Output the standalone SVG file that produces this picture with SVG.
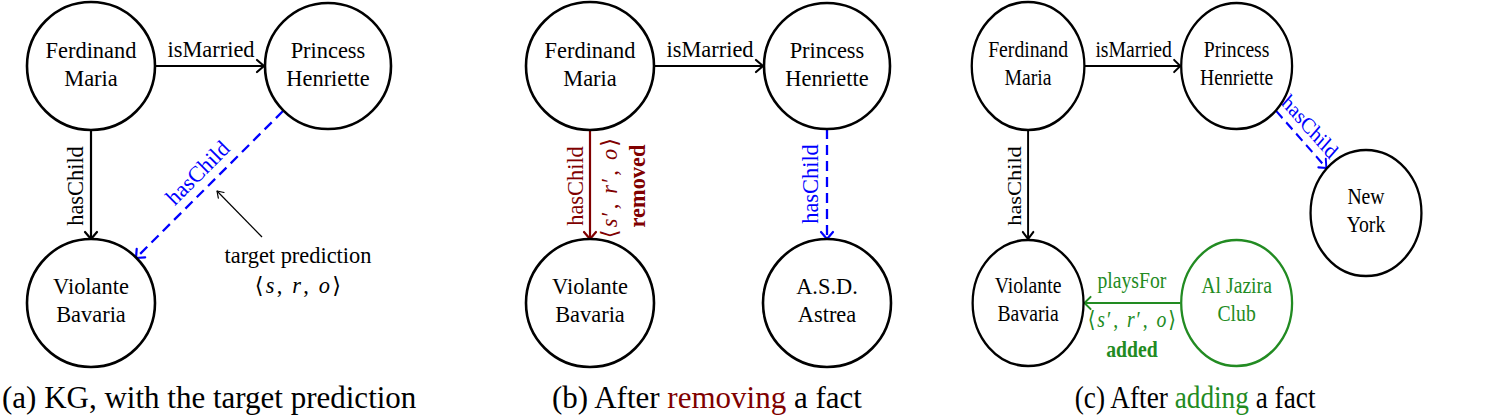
<svg xmlns="http://www.w3.org/2000/svg" width="1494" height="418" viewBox="0 0 1494 418">
<style>
text{font-family:"Liberation Serif","DejaVu Serif",serif;}
.lbl{font-size:22.4px;text-anchor:middle;}
.math{letter-spacing:2.2px;}
.cap{font-size:31px;}
.node{fill:#fff;stroke:#000;stroke-width:2.6;}
.gnode{fill:#fff;stroke:#228B22;stroke-width:2.6;}
.edge{fill:none;stroke:#000;stroke-width:2.2;}
.blue{fill:none;stroke:#0000ff;stroke-width:2.3;stroke-dasharray:10 6;}
.red{fill:none;stroke:#800000;stroke-width:2.2;}
.green{fill:none;stroke:#228B22;stroke-width:2.2;}
.thin{fill:none;stroke:#000;stroke-width:1.2;}
.it{font-style:italic;}
</style>
<defs>
<marker id="ak" markerUnits="userSpaceOnUse" viewBox="-10 -8 12 16" markerWidth="12" markerHeight="16" refX="0" refY="0" orient="auto"><path d="M-7,-6 L0,0 L-7,6" fill="none" stroke="#000" stroke-width="2.2" stroke-linecap="round" stroke-linejoin="round"/></marker>
<marker id="ab" markerUnits="userSpaceOnUse" viewBox="-10 -8 12 16" markerWidth="12" markerHeight="16" refX="0" refY="0" orient="auto"><path d="M-7,-6 L0,0 L-7,6" fill="none" stroke="#0000ff" stroke-width="2.2" stroke-linecap="round" stroke-linejoin="round"/></marker>
<marker id="ar" markerUnits="userSpaceOnUse" viewBox="-10 -8 12 16" markerWidth="12" markerHeight="16" refX="0" refY="0" orient="auto"><path d="M-7,-6 L0,0 L-7,6" fill="none" stroke="#800000" stroke-width="2.2" stroke-linecap="round" stroke-linejoin="round"/></marker>
<marker id="ag" markerUnits="userSpaceOnUse" viewBox="-10 -8 12 16" markerWidth="12" markerHeight="16" refX="0" refY="0" orient="auto"><path d="M-7,-6 L0,0 L-7,6" fill="none" stroke="#228B22" stroke-width="2.2" stroke-linecap="round" stroke-linejoin="round"/></marker>
<marker id="at" markerUnits="userSpaceOnUse" viewBox="-8 -6 10 12" markerWidth="10" markerHeight="12" refX="0" refY="0" orient="auto"><path d="M-6,-4 L0,0 L-6,4" fill="none" stroke="#000" stroke-width="1.2" stroke-linecap="round" stroke-linejoin="round"/></marker>
</defs>

<!-- Panel (a) -->
<g id="panel-a">
  <g id="a-connectors">
    <path class="edge" d="M155,66 L264,66" marker-end="url(#ak)"/>
    <path class="edge" d="M91,130 L91,239" marker-end="url(#ak)"/>
    <path class="blue" d="M283,111 L136,258" marker-end="url(#ab)"/>
    <path class="thin" d="M262,237 L217,191" marker-end="url(#at)"/>
    <text class="lbl" x="211" y="57">isMarried</text>
    <text class="lbl" transform="translate(83,186) rotate(-90)">hasChild</text>
    <text class="lbl" fill="#0000ff" transform="translate(203,178) rotate(-45)">hasChild</text>
  </g>
  <g id="a-ferdinand"><circle class="node" cx="91" cy="66" r="64"/><text class="lbl"><tspan x="91" y="57.5">Ferdinand</tspan><tspan x="91" y="85.5">Maria</tspan></text></g>
  <g id="a-henriette"><circle class="node" cx="328" cy="66" r="63"/><text class="lbl"><tspan x="328" y="57.5">Princess</tspan><tspan x="328" y="85.5">Henriette</tspan></text></g>
  <g id="a-violante"><circle class="node" cx="91" cy="303" r="64"/><text class="lbl"><tspan x="91" y="293.5">Violante</tspan><tspan x="91" y="321.5">Bavaria</tspan></text></g>
  <g id="a-target"><text class="lbl" x="298" y="263">target prediction</text><text class="lbl math" x="299" y="293">⟨<tspan class="it">s</tspan>, <tspan class="it">r</tspan>, <tspan class="it">o</tspan>⟩</text></g>
  <text class="cap" x="2" y="408">(a) KG, with the target prediction</text>
</g>

<!-- Panel (b) -->
<g id="panel-b" transform="translate(499,0)">
  <g id="b-connectors">
    <path class="edge" d="M155,66 L264,66" marker-end="url(#ak)"/>
    <path class="red" d="M91,130 L91,239" marker-end="url(#ar)"/>
    <path class="blue" d="M328,129 L328,239" marker-end="url(#ab)"/>
    <text class="lbl" x="211" y="57">isMarried</text>
    <text class="lbl" fill="#800000" transform="translate(84,186) rotate(-90)">hasChild</text>
    <text class="lbl math" fill="#800000" transform="translate(118,187) rotate(-90)">⟨<tspan class="it">s</tspan>′, <tspan class="it">r</tspan>′, <tspan class="it">o</tspan>⟩</text>
    <text class="lbl" fill="#800000" font-weight="bold" transform="translate(146,186) rotate(-90)">removed</text>
    <text class="lbl" fill="#0000ff" transform="translate(319,184) rotate(-90)">hasChild</text>
  </g>
  <g id="b-ferdinand"><circle class="node" cx="91" cy="66" r="64"/><text class="lbl"><tspan x="91" y="57.5">Ferdinand</tspan><tspan x="91" y="85.5">Maria</tspan></text></g>
  <g id="b-henriette"><circle class="node" cx="328" cy="66" r="63"/><text class="lbl"><tspan x="328" y="57.5">Princess</tspan><tspan x="328" y="85.5">Henriette</tspan></text></g>
  <g id="b-violante"><circle class="node" cx="91" cy="303" r="64"/><text class="lbl"><tspan x="91" y="293.5">Violante</tspan><tspan x="91" y="321.5">Bavaria</tspan></text></g>
  <g id="b-astrea"><circle class="node" cx="328" cy="303" r="64"/><text class="lbl"><tspan x="328" y="293.5">A.S.D.</tspan><tspan x="328" y="321.5">Astrea</tspan></text></g>
  <text class="cap" x="53" y="408">(b) After <tspan fill="#800000">removing</tspan> a fact</text>
</g>

<!-- Panel (c) -->
<g id="panel-c" transform="translate(948,0) scale(0.88,1)">
  <g id="c-connectors">
    <path class="edge" d="M155,66 L264,66" marker-end="url(#ak)"/>
    <path class="edge" d="M91,130 L91,239" marker-end="url(#ak)"/>
    <path class="blue" d="M373,111 L430,168" marker-end="url(#ab)"/>
    <path class="green" d="M264,303 L155,303" marker-end="url(#ag)"/>
    <text class="lbl" x="211" y="57">isMarried</text>
    <text class="lbl" transform="translate(83,186) rotate(-90)">hasChild</text>
    <text class="lbl" fill="#0000ff" transform="translate(406,132) rotate(45)">hasChild</text>
    <text class="lbl" fill="#228B22" x="209" y="288">playsFor</text>
    <text class="lbl math" fill="#228B22" x="210" y="327">⟨<tspan class="it">s</tspan>′, <tspan class="it">r</tspan>′, <tspan class="it">o</tspan>⟩</text>
    <text class="lbl" fill="#228B22" font-weight="bold" x="209" y="357">added</text>
  </g>
  <g id="c-ferdinand"><circle class="node" cx="91" cy="66" r="64"/><text class="lbl"><tspan x="91" y="57.5">Ferdinand</tspan><tspan x="91" y="85.5">Maria</tspan></text></g>
  <g id="c-henriette"><circle class="node" cx="328" cy="66" r="63"/><text class="lbl"><tspan x="328" y="57.5">Princess</tspan><tspan x="328" y="85.5">Henriette</tspan></text></g>
  <g id="c-newyork"><circle class="node" cx="475" cy="213" r="63"/><text class="lbl"><tspan x="475" y="204">New</tspan><tspan x="475" y="232">York</tspan></text></g>
  <g id="c-violante"><circle class="node" cx="91" cy="303" r="63"/><text class="lbl"><tspan x="91" y="293.5">Violante</tspan><tspan x="91" y="321.5">Bavaria</tspan></text></g>
  <g id="c-aljazira"><circle class="gnode" cx="328" cy="303" r="63"/><text class="lbl" fill="#228B22"><tspan x="328" y="293.5">Al Jazira</tspan><tspan x="328" y="321.5">Club</tspan></text></g>
  <text class="cap" x="144" y="408">(c) After <tspan fill="#228B22">adding</tspan> a fact</text>
</g>
</svg>
